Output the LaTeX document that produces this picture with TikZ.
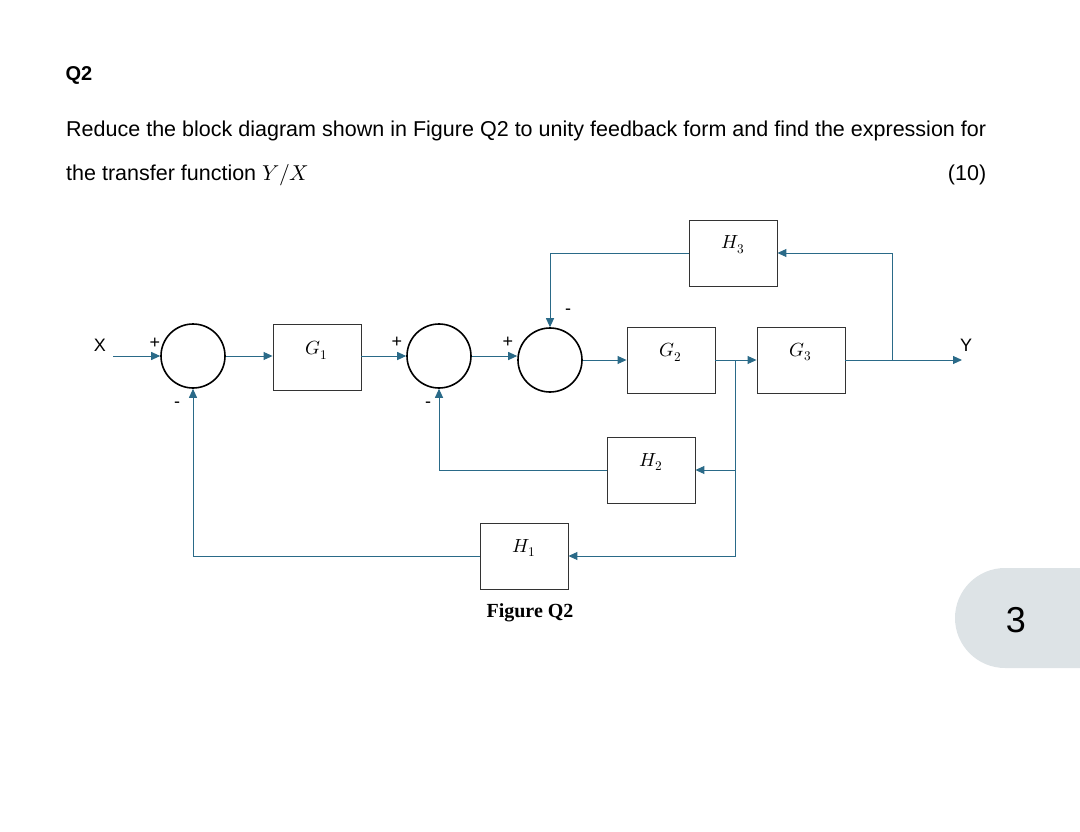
\documentclass[tikz,border=0pt]{standalone}
\usepackage{fontspec}
\setmainfont{Liberation Sans}
\newfontfamily\serif{Liberation Serif}
\usepackage{unicode-math}
\setmathfont{Latin Modern Math}
\usetikzlibrary{arrows.meta}
\definecolor{ln}{HTML}{2A6A88}
\definecolor{pg}{HTML}{DDE3E6}
\begin{document}
\begin{tikzpicture}[x=1pt,y=-1pt,
  blk/.style={draw=black!80,line width=0.9pt,minimum width=88pt,minimum height=66pt,inner sep=0pt},
  sum/.style={draw=black,line width=1.6pt,circle,minimum size=64pt,inner sep=0pt},
  wire/.style={draw=ln,line width=1pt},
  arr/.style={wire,-{Triangle[length=9pt,width=8pt]}},
  lbl/.style={font=\fontsize{18}{20}\selectfont},
  ml/.style={font=\fontsize{19}{22}\selectfont}]
\useasboundingbox (0,0) rectangle (1080,832);
\clip (0,0) rectangle (1080,832);
\fill[pg,rounded corners=50pt] (955,568) rectangle (1140,668);
\node at (1016,620) {\fontsize{36}{40}\selectfont 3};
\node[anchor=west,font=\bfseries\fontsize{20}{24}\selectfont] at (62,75) {Q2};
\node[anchor=west,inner sep=0pt,text width=920pt,align=justify,font=\fontsize{21.5}{44}\selectfont] at (66,153)
 {Reduce the block diagram shown in Figure Q2 to unity feedback form and find the expression for the transfer function $Y/X$\hfill(10)};
% blocks
\node[sum] (s1) at (193,356) {};
\node[sum] (s2) at (439,356) {};
\node[sum] (s3) at (550,360) {};
\node[blk] (g1) at (317,357) {}; \node[ml] at (317,350) {$G_1$};
\node[blk] (g2) at (671,360) {}; \node[ml] at (671,352) {$G_2$};
\node[blk] (g3) at (801,360) {}; \node[ml] at (801,352) {$G_3$};
\node[blk] (h3) at (733,253) {}; \node[ml] at (733,245) {$H_3$};
\node[blk] (h2) at (651,470) {}; \node[ml] at (651,462) {$H_2$};
\node[blk] (h1) at (524,556) {}; \node[ml] at (524,548) {$H_1$};
\coordinate (xin) at (113,356);
\coordinate (yout) at (962,360);
\coordinate (br1) at (735,360);
\coordinate (br2) at (892,360);
% main path
\draw[arr] (xin) -- (s1.west);
\draw[arr] (s1.east) -- (g1.west |- s1.east);
\draw[arr] (g1.east |- s2.west) -- (s2.west);
\draw[arr] (s2.east) -- (s3.west |- s2.east);
\draw[arr] (s3.east) -- (g2.west);
\draw[arr] (g2.east) -- (g3.west);
\draw[arr] (g3.east) -- (yout);
% feedback
\draw[arr] (br2) -- (br2 |- h3.east) -- (h3.east);
\draw[arr] (h3.west) -- (h3.west -| s3.north) -- (s3.north);
\draw[arr] (br1) -- (br1 |- h2.east) -- (h2.east);
\draw[arr] (h2.west) -- (h2.west -| s2.south) -- (s2.south);
\draw[arr] (br1) -- (br1 |- h1.east) -- (h1.east);
\draw[arr] (h1.west) -- (h1.west -| s1.south) -- (s1.south);
% labels
\node[lbl] at (100,345) {X};
\node[lbl] at (966,345) {Y};
\node[lbl] at (155,343) {+};
\node[lbl] at (177,405) {-};
\node[lbl] at (397,342) {+};
\node[lbl] at (428,405) {-};
\node[lbl] at (508,342) {+};
\node[lbl] at (568,312) {-};
\node[font=\serif\bfseries\fontsize{20}{24}\selectfont] at (530,613) {Figure Q2};
\end{tikzpicture}
\end{document}
